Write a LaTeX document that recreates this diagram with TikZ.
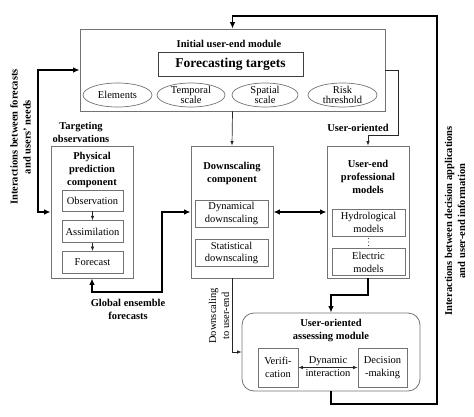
\documentclass[tikz,border=0pt]{standalone}
\usepackage{fontspec}
\setmainfont{Liberation Serif}
\usetikzlibrary{arrows.meta,positioning,shapes.geometric}

\begin{document}
\begin{tikzpicture}[x=1pt, y=-1pt,
  font=\fontsize{10.5}{13}\selectfont,
  bx/.style={draw=black!55, line width=0.8pt, minimum width=82pt,
    minimum height=132pt, inner sep=0pt},
  sub/.style={draw=black!55, line width=0.7pt, minimum width=73pt,
    minimum height=27pt, inner sep=0pt, align=center,
    font=\fontsize{10.5}{12.5}\selectfont},
  ell/.style={ellipse, draw=black!55, line width=0.7pt, inner xsep=0pt,
    inner ysep=-2.5pt, minimum height=24pt, align=center,
    font=\fontsize{10.5}{10}\selectfont},
  ttl/.style={font=\fontsize{10.5}{13}\selectfont\bfseries, align=center,
    inner sep=0pt},
  thk/.style={line width=1.6pt, >={Latex[length=6.5pt,width=5.5pt]}},
  thn/.style={draw=black!85, line width=0.7pt,
    >={Latex[length=4.5pt,width=3.5pt]}}]
\useasboundingbox (0,0) rectangle (474,416);

% initial user-end module
\node[draw=black!55, line width=0.8pt, minimum width=305pt,
  minimum height=82pt] (init) at (232.5,70) {};
\node[ttl] (initT) at (229,44) {Initial user-end module};
\node[draw=black!75, line width=1pt, minimum width=145pt, minimum height=24pt,
  font=\fontsize{13.5}{15}\selectfont\bfseries] (tgt) at (230.5,64)
  {Forecasting targets};
\node[ell, minimum width=69pt] (elem) at (117.5,95) {Elements};
\node[ell, minimum width=68pt] (temp) at (191,95) {Temporal\\scale};
\node[ell, minimum width=66pt] (spat) at (265,95) {Spatial\\scale};
\node[ell, minimum width=69pt] (risk) at (342.5,95) {Risk\\threshold};

% physical prediction component
\node[bx] (phys) at (92,212) {};
\node[ttl] (physT) at (92,170) {Physical\\prediction\\component};
\node[sub, minimum width=61pt, minimum height=21pt] (obs) at (92.5,200.5)
  {Observation};
\node[sub, minimum width=61pt, minimum height=22pt, below=9pt of obs] (assim)
  {Assimilation};
\node[sub, minimum width=61pt, minimum height=22pt, below=8pt of assim] (fcst)
  {Forecast};
\draw[thn,->] (obs) -- (assim);
\draw[thn,->] (assim) -- (fcst);

% downscaling component
\node[bx] (down) at (232,212) {};
\node[ttl] (downT) at (232,173.5) {Downscaling\\component};
\node[sub] (dyn) at (231.5,213.5) {Dynamical\\downscaling};
\node[sub, below=12pt of dyn] (stat) {Statistical\\downscaling};

% user-end professional models
\node[bx] (uem) at (368,212) {};
\node[ttl] (uemT) at (368,177) {User-end\\professional\\models};
\node[sub] (hyd) at (368.5,222.5) {Hydrological\\models};
\node[sub, below=12pt of hyd] (elec) {Electric\\models};
\foreach \dy in {-3.5,0,3.5}
  \fill[black!70] (368.5,242+\dy) circle (0.55pt);

% user-oriented assessing module
\node[draw=black!55, line width=0.8pt, rounded corners=12pt,
  minimum width=178pt, minimum height=78pt] (assess) at (331,352) {};
\node[ttl] (assessT) at (331,331) {User-oriented\\assessing module};
\node[sub, minimum width=40pt, minimum height=39pt] (ver) at (278,367.5)
  {Verifi-\\cation};
\node[sub, minimum width=49pt, minimum height=39pt] (dec) at (382.5,367.5)
  {Decision\\-making};
\draw[thn,<->] (ver) -- (dec)
  node[midway, above, inner sep=1.5pt] {Dynamic}
  node[midway, below, inner sep=1.5pt] {interaction};

% connectors
\coordinate (fbR) at (437,404);
\coordinate (fbT) at (437,16);
\draw[thk,->] (assess.south) |- (fbR) -- (fbT) -| (init.north);
\coordinate (lft) at (38,212);
\draw[thk,<->] (init.west) -| (lft) -- (phys.west);
\coordinate (gef) at (162,292);
\draw[thk,<->] (phys.south) |- (gef) |- (down.west);
\draw[thn,->] (init.south) -- (down.north);
\coordinate (uo) at (398,135);
\draw[thn,->] (init.east) -| (uo) -| (uem.north);
\draw[thk,<->] (down.east) -- (uem.west);
\coordinate (ua) at (331,295);
\draw[thk,->] (uem.south) |- (ua) -- (assess.north);
\draw[thn,->] (down.south) |- (assess.west);

% labels
\node[ttl] (tobsL) at (81,132) {Targeting\\observations};
\node[ttl] (gefL) at (128,309) {Global ensemble\\forecasts};
\node[ttl] (uoL) at (358,128) {User-oriented};
\node[rotate=90, align=center, inner sep=0pt] (dsL) at (219,316)
  {Downscaling\\to user-end};
\node[ttl, rotate=90] (lftL) at (20.5,137)
  {Interactions between forecasts\\and users' needs};
\node[ttl, rotate=90] (rgtL) at (455,221)
  {Interactions between decision applications\\and user-end information};
\end{tikzpicture}
\end{document}
